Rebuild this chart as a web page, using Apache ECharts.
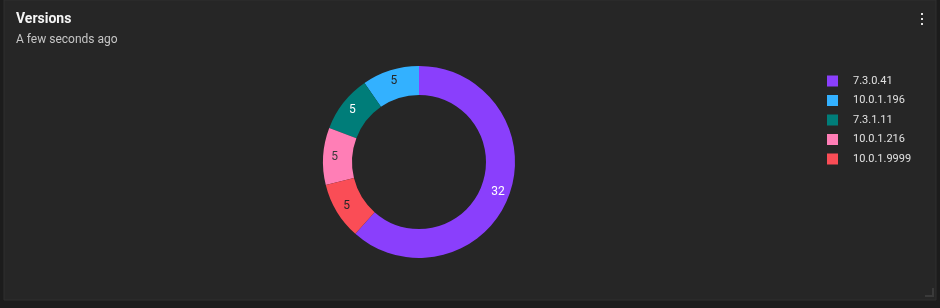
<!DOCTYPE html>
<html><head><meta charset="utf-8">
<script src="https://cdn.jsdelivr.net/npm/echarts@6/dist/echarts.min.js"></script>
<style>html,body{margin:0;padding:0;background:#1c1c1c;}#c{width:940px;height:308px;}</style>
</head><body><div id="c"></div>
<script>
const titleText = 'Versions';
const subtitleText = 'A few seconds ago';
const categories = ['7.3.0.41', '10.0.1.196', '7.3.1.11', '10.0.1.216', '10.0.1.9999'];
const values = [32, 5, 5, 5, 5];
const colors = ['#8a3ffc', '#33b1ff', '#007d79', '#ff7eb6', '#fa4d56'];
const labelColors = ['#ffffff', '#262626', '#ffffff', '#393939', '#262626'];

const chart = echarts.init(document.getElementById('c'), null, {renderer: 'canvas'});
const font = 'Roboto, "Noto Sans", sans-serif';
chart.setOption({
  backgroundColor: '#1c1c1c',
  animation: false,
  textStyle: {fontFamily: font},
  graphic: [
    {type: 'rect', z: -10, shape: {x: 4, y: 0, width: 932, height: 300},
     style: {fill: '#262626', stroke: '#2e2e2e', lineWidth: 1}},
    {type: 'rect', shape: {x: 921, y: 13, width: 2, height: 2}, style: {fill: '#e0e0e0'}},
    {type: 'rect', shape: {x: 921, y: 18, width: 2, height: 2}, style: {fill: '#e0e0e0'}},
    {type: 'rect', shape: {x: 921, y: 23, width: 2, height: 2}, style: {fill: '#e0e0e0'}},
    {type: 'polyline', shape: {points: [[933, 288], [933, 296], [925, 296]]},
     style: {stroke: '#3a3a3a', lineWidth: 2, fill: null}}
  ],
  title: {
    text: titleText, subtext: subtitleText, left: 11, top: 7, itemGap: 8,
    textStyle: {color: '#f4f4f4', fontSize: 14, fontWeight: 'bold', fontFamily: font},
    subtextStyle: {color: '#c6c6c6', fontSize: 12, fontFamily: font}
  },
  legend: {
    orient: 'vertical', left: 827, top: 75.5, padding: 0, itemWidth: 11, itemHeight: 11, itemGap: 8.5,
    icon: 'rect', data: categories,
    textStyle: {color: '#e0e0e0', fontSize: 11, lineHeight: 11, padding: [0, 0, 0, 10], fontFamily: font}
  },
  series: [{
    type: 'pie', center: [419, 162], radius: [67, 96],
    clockwise: false, startAngle: 90 + 360 - 360 * 32 / 52,
    avoidLabelOverlap: false,
    label: {show: true, position: 'inside', fontSize: 12, fontFamily: font, formatter: '{c}'},
    labelLine: {show: false},
    itemStyle: {borderWidth: 0},
    emphasis: {disabled: true},
    data: categories.map((n, i) => ({
      name: n, value: values[i],
      itemStyle: {color: colors[i]},
      label: {color: labelColors[i]}
    }))
  }]
});
</script></body></html>
